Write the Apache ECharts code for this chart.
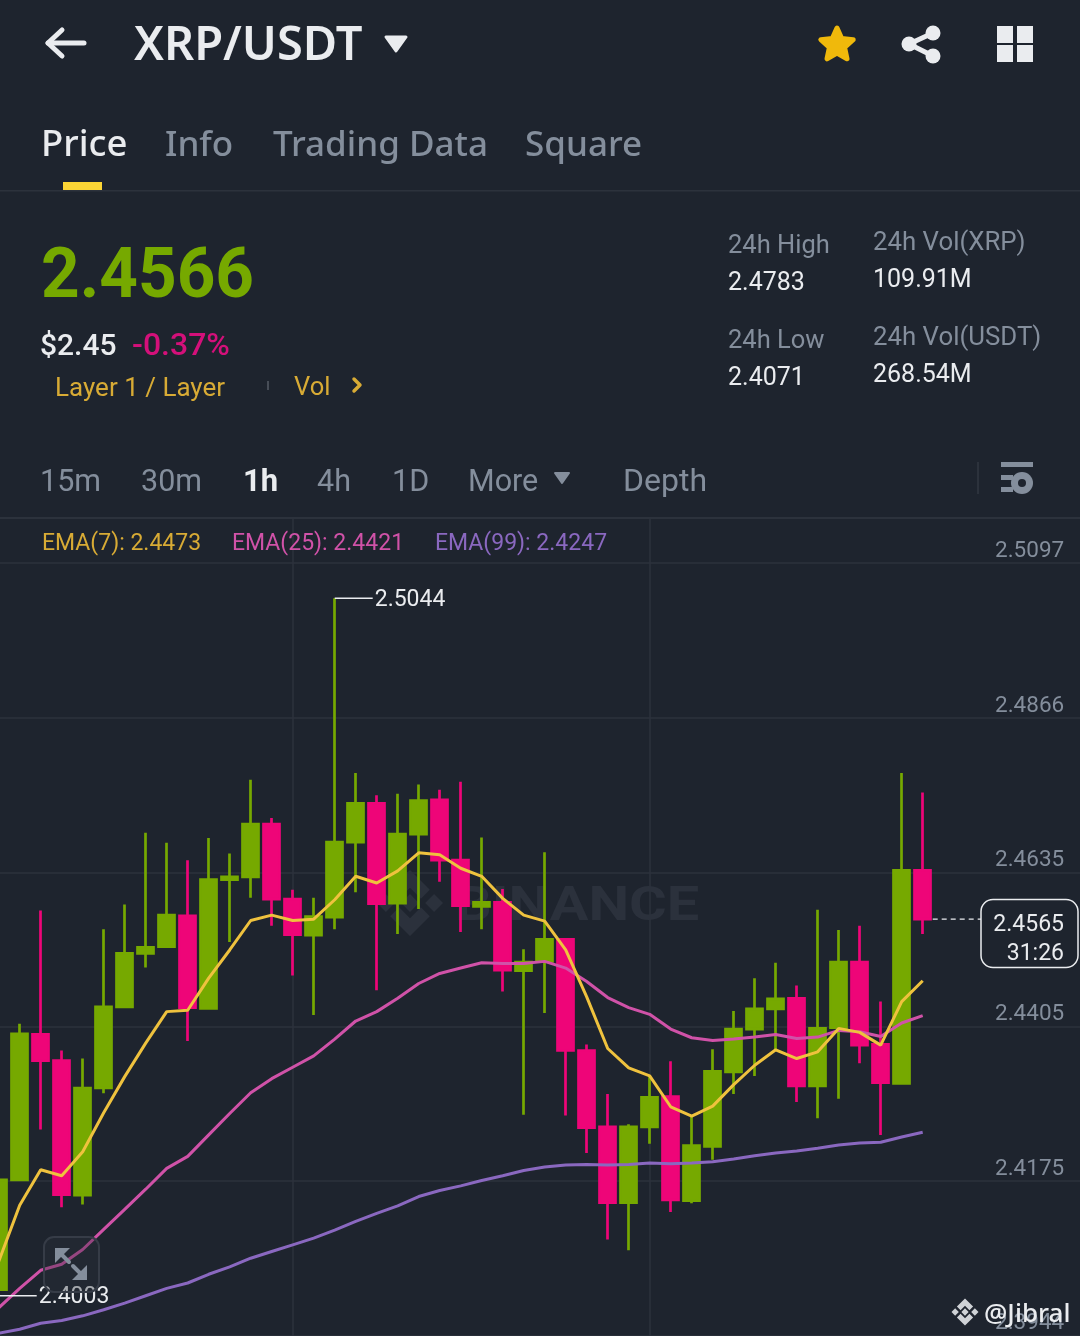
<!DOCTYPE html>
<html>
<head>
<meta charset="utf-8">
<title>XRP/USDT</title>
<script src="https://cdn.jsdelivr.net/npm/echarts@6/dist/echarts.min.js"></script>
<style>
html, body { margin: 0; padding: 0; background: #1e242e; }
#main { width: 1080px; height: 1336px; }
</style>
</head>
<body>
<div id="main"></div>
<script>
// hourly candles
var opens = [2.4012,2.4176,2.4393,2.4354,2.4153,2.4313,2.4434,2.4514,2.4524,2.4570,2.4432,2.4624,2.4628,2.4707,2.4595,2.4541,2.4568,2.4680,2.4738,2.4589,2.4692,2.4743,2.4653,2.4584,2.4590,2.4488,2.4502,2.4535,2.4369,2.4255,2.4142,2.4255,2.4300,2.4145,2.4226,2.4337,2.4401,2.4431,2.4447,2.4316,2.4403,2.4501,2.4378,2.4320,2.4638];
var closes = [2.4176,2.4394,2.4354,2.4154,2.4313,2.4434,2.4514,2.4523,2.4571,2.4433,2.4624,2.4628,2.4707,2.4595,2.4542,2.4569,2.4680,2.4738,2.4588,2.4692,2.4742,2.4653,2.4585,2.4590,2.4489,2.4501,2.4535,2.4369,2.4254,2.4142,2.4255,2.4299,2.4146,2.4227,2.4338,2.4401,2.4431,2.4446,2.4316,2.4402,2.4501,2.4377,2.4321,2.4638,2.4565];
var lows = [2.4003,2.4175,2.4251,2.4135,2.4139,2.4305,2.4433,2.4493,2.4523,2.4383,2.4431,2.4531,2.4597,2.4555,2.4481,2.4422,2.4550,2.4605,2.4459,2.4543,2.4580,2.4621,2.4546,2.4550,2.4457,2.4273,2.4425,2.4272,2.4216,2.4087,2.4071,2.4230,2.4128,2.4141,2.4206,2.4304,2.4331,2.4370,2.4292,2.4268,2.4297,2.4350,2.4243,2.4320,2.4543];
var highs = [2.4273,2.4409,2.4578,2.4369,2.4357,2.4550,2.4587,2.4694,2.4679,2.4653,2.4686,2.4663,2.4773,2.4716,2.4609,2.4597,2.5044,2.4783,2.4750,2.4752,2.4766,2.4758,2.4770,2.4687,2.4610,2.4520,2.4665,2.4536,2.4378,2.4304,2.4259,2.4331,2.4353,2.4273,2.4371,2.4428,2.4477,2.4500,2.4466,2.4579,2.4549,2.4555,2.4442,2.4783,2.4754];

var ema7 = [2.4054,2.4138,2.4191,2.4182,2.4218,2.4276,2.4330,2.4380,2.4427,2.4429,2.4477,2.4519,2.4563,2.4571,2.4563,2.4565,2.4594,2.4629,2.4619,2.4637,2.4664,2.4661,2.4641,2.4629,2.4596,2.4571,2.4562,2.4519,2.4449,2.4372,2.4343,2.4331,2.4285,2.4271,2.4286,2.4318,2.4347,2.4370,2.4357,2.4367,2.4402,2.4396,2.4377,2.4442,2.4473];
var ema25 = [2.3985,2.4014,2.4041,2.4050,2.4072,2.4102,2.4132,2.4162,2.4193,2.4211,2.4243,2.4275,2.4306,2.4327,2.4344,2.4361,2.4386,2.4413,2.4427,2.4447,2.4469,2.4484,2.4492,2.4500,2.4499,2.4499,2.4502,2.4492,2.4472,2.4448,2.4433,2.4423,2.4401,2.4388,2.4384,2.4386,2.4389,2.4393,2.4387,2.4389,2.4399,2.4397,2.4390,2.4410,2.4421];
var ema99 = [2.3947,2.3953,2.3962,2.3966,2.3973,2.3982,2.3992,2.4003,2.4014,2.4022,2.4035,2.4046,2.4059,2.4069,2.4079,2.4089,2.4101,2.4114,2.4126,2.4137,2.4151,2.4160,2.4167,2.4175,2.4182,2.4190,2.4195,2.4198,2.4199,2.4198,2.4199,2.4201,2.4200,2.4201,2.4203,2.4207,2.4212,2.4216,2.4219,2.4223,2.4228,2.4231,2.4232,2.4240,2.4247];

var priceTicks = [2.5097, 2.4866, 2.4635, 2.4405, 2.4175, 2.3944];
var gridCandles = [14, 31];          // candles the vertical grid lines run through
var extremes = [[16, 2.5044], [0, 2.4003]];
var lastPrice = [44, 2.4565];
var countdown = '31:26';
var tabs = ['Price', 'Info', 'Trading Data', 'Square'];
var intervals = ['15m', '30m', '1h', '4h', '1D', 'More', 'Depth'];

var BG = '#1e242e', GRID = '#2c323c', GREY = '#848e9c', WHITE = '#eaecef';
var UP = '#76a900', DOWN = '#ee0578';
var YELLOW = '#efc23e', PINK = '#d052a8', PURPLE = '#8a68c0', GOLD = '#d8ab35';
var UI_FONT = '"Noto Sans", sans-serif', NUM_FONT = 'Roboto, sans-serif';

var candles = opens.map(function (o, i) {
    return [o, closes[i], lows[i], highs[i]];
});
var slots = [];
for (var s = 0; s < 52; s++) { slots.push(s); }   // room right of the last candle

// y is the visual middle of the text, the font metrics sit about 3px high
function txt(text, x, y, size, color, weight, family, extra) {
    extra = extra || {};
    return {
        type: 'text', x: x, y: y + 3, z: extra.z || 10, scaleX: extra.scaleX || 1,
        style: {
            text: text, fill: color,
            font: (weight || 400) + ' ' + size + 'px ' + (family || UI_FONT),
            textAlign: 'left', textVerticalAlign: 'middle'
        }
    };
}
function rect(x, y, w, h, color, z) {
    return { type: 'rect', z: z || 10, shape: { x: x, y: y, width: w, height: h }, style: { fill: color } };
}
function poly(points, color, z) {
    return { type: 'polygon', z: z || 10, shape: { points: points }, style: { fill: color } };
}
function stroke(points, color, width, z) {
    return { type: 'polyline', z: z || 10, shape: { points: points },
        style: { stroke: color, lineWidth: width, lineCap: 'round', lineJoin: 'round', fill: null } };
}
// exchange logo, used for the watermark and for the author tag
function logo(cx, cy, r, color, z) {
    var parts = [
        [[0, -.27], [.27, 0], [0, .27], [-.27, 0]],
        [[-.73, -.27], [-.46, 0], [-.73, .27], [-1, 0]],
        [[.73, -.27], [1, 0], [.73, .27], [.46, 0]],
        [[0, -1], [.6, -.4], [.33, -.13], [0, -.46], [-.33, -.13], [-.6, -.4]],
        [[0, 1], [.6, .4], [.33, .13], [0, .46], [-.33, .13], [-.6, .4]]
    ];
    return parts.map(function (p) {
        return poly(p.map(function (q) { return [cx + q[0] * r, cy + q[1] * r]; }), color, z);
    });
}
function star(cx, cy, outer, inner) {
    var pts = [];
    for (var i = 0; i < 10; i++) {
        var r = i % 2 ? inner : outer, a = -Math.PI / 2 + i * Math.PI / 5;
        pts.push([cx + r * Math.cos(a), cy + r * Math.sin(a)]);
    }
    return pts;
}

var tabX = [41, 165, 273, 525];
var intervalX = [40, 141, 243, 317, 392, 468, 623];

var page = [];
// top bar
page.push(stroke([[48, 43], [84, 43]], WHITE, 5));
page.push(stroke([[62, 30], [48, 43], [62, 56]], WHITE, 5));
page.push(txt('XRP/USDT', 134, 44, 47, WHITE, 600));
page.push({ type: 'polygon', z: 10, shape: { points: [[386, 37], [406, 37], [396, 51]] },
    style: { fill: WHITE, stroke: WHITE, lineWidth: 3, lineJoin: 'round' } });
page.push({ type: 'polygon', z: 10, shape: { points: star(837, 45, 17, 8) },
    style: { fill: '#f0b90b', stroke: '#f0b90b', lineWidth: 5, lineJoin: 'round' } });
page.push(stroke([[933, 33], [909, 44], [933, 56]], WHITE, 5));
[[909, 44], [933, 33], [933, 56]].forEach(function (c) {
    page.push({ type: 'circle', z: 10, shape: { cx: c[0], cy: c[1], r: 7.5 }, style: { fill: WHITE } });
});
page.push(rect(997, 26, 16, 17, WHITE), rect(1017, 26, 16, 17, WHITE), rect(997, 45, 16, 17, WHITE), rect(1017, 45, 16, 17, WHITE));
// tabs
tabs.forEach(function (t, i) {
    page.push(txt(t, tabX[i], 143, i === 0 ? 36.5 : 35, i === 0 ? WHITE : GREY, 500));
});
page.push(rect(63, 182, 39, 8, '#fcd535'), rect(0, 190, 1080, 1.5, GRID));
// price block
page.push(txt('2.4566', 41, 276, 71, UP, 700, NUM_FONT, { scaleX: 0.95 }));
page.push(txt('$2.45', 40, 344, 30, WHITE, 500, NUM_FONT));
page.push(txt('-0.37%', 132, 344, 32, '#d4107a', 500, NUM_FONT));
page.push(txt('Layer 1 / Layer', 55, 386, 26, GOLD, 400, NUM_FONT));
page.push(rect(267, 381, 2, 9, '#474d57'));
page.push(txt('Vol', 294, 386, 25.5, GOLD, 400, NUM_FONT));
page.push(stroke([[354, 379], [360, 385], [354, 391]], GOLD, 3.5));
// 24h stats
page.push(txt('24h High', 728, 244, 25.5, GREY, 400, NUM_FONT));
page.push(txt('2.4783', 728, 281, 25, WHITE, 400, NUM_FONT));
page.push(txt('24h Low', 728, 339, 25.5, GREY, 400, NUM_FONT));
page.push(txt('2.4071', 728, 376, 25, WHITE, 400, NUM_FONT));
page.push(txt('24h Vol(XRP)', 873, 241, 25.8, GREY, 400, NUM_FONT));
page.push(txt('109.91M', 873, 278, 25, WHITE, 400, NUM_FONT));
page.push(txt('24h Vol(USDT)', 873, 336, 25.8, GREY, 400, NUM_FONT));
page.push(txt('268.54M', 873, 373, 25, WHITE, 400, NUM_FONT));
// interval row
intervals.forEach(function (t, i) {
    var size = t === 'Depth' ? 32 : (t === '1h' ? 31 : 30.5);
    page.push(txt(t, intervalX[i], 480, size, t === '1h' ? WHITE : GREY, t === '1h' ? 700 : 400, NUM_FONT));
});
page.push({ type: 'polygon', z: 10, shape: { points: [[555, 473], [569, 473], [562, 483]] },
    style: { fill: GREY, stroke: GREY, lineWidth: 2, lineJoin: 'round' } });
page.push(rect(977, 462, 2, 32, GRID));
page.push(rect(1001, 462, 32, 5, GREY), rect(1001, 475, 12, 5, GREY), rect(1001, 487, 12, 5, GREY));
page.push({ type: 'circle', z: 10, shape: { cx: 1022, cy: 483, r: 11 }, style: { fill: GREY } });
page.push({ type: 'circle', z: 10, shape: { cx: 1022, cy: 483, r: 4 }, style: { fill: BG } });
page.push(rect(0, 517, 1080, 2, GRID));
// EMA legend
page.push(txt('EMA(7): 2.4473', 42, 541, 23, GOLD, 400, NUM_FONT));
page.push(txt('EMA(25): 2.4421', 232, 541, 23, PINK, 400, NUM_FONT));
page.push(txt('EMA(99): 2.4247', 435, 541, 23, PURPLE, 400, NUM_FONT));
// watermark sits under the candles
logo(410, 903, 33, '#2b313c', 1).forEach(function (e) { page.push(e); });
page.push(txt('BINANCE', 455, 905, 48, '#2b313c', 700, NUM_FONT, { z: 1, scaleX: 1.2 }));
// fullscreen button
page.push({ type: 'rect', z: 20, shape: { x: 44, y: 1237, width: 55, height: 55, r: 10 },
    style: { fill: 'rgba(43,49,57,0.35)', stroke: '#363c47', lineWidth: 2 } });
page.push(poly([[55, 1248], [70, 1248], [55, 1263]], GREY, 21), stroke([[60, 1253], [69, 1262]], GREY, 4, 21));
page.push(poly([[87, 1280], [72, 1280], [87, 1265]], GREY, 21), stroke([[82, 1275], [73, 1266]], GREY, 4, 21));
// author tag
logo(965, 1312, 13.5, '#cfd2d6', 30).forEach(function (e) { page.push(e); });
page.push(txt('@Jibral', 984, 1312, 26, WHITE, 500, UI_FONT, { z: 30 }));

// labelled high and low, with their leader line
function renderExtreme(params, api) {
    var p = api.coord([api.value(0), api.value(1)]);
    return { type: 'group', children: [
        { type: 'line', shape: { x1: p[0], y1: p[1], x2: p[0] + 38, y2: p[1] }, style: { stroke: WHITE, lineWidth: 1.5 } },
        { type: 'text', style: { x: p[0] + 40, y: p[1] + 2, text: api.value(1).toFixed(4), fill: WHITE,
            font: '400 23px ' + NUM_FONT, textVerticalAlign: 'middle' } }
    ] };
}
// last price with its dashed leader and boxed countdown
function renderLast(params, api) {
    var p = api.coord([api.value(0), api.value(1)]);
    return { type: 'group', children: [
        { type: 'line', shape: { x1: p[0] + 10, y1: p[1], x2: 981, y2: p[1] },
            style: { stroke: WHITE, lineWidth: 1.2, lineDash: [5, 4] } },
        { type: 'rect', shape: { x: 981, y: 899.5, width: 97, height: 68, r: 12 },
            style: { fill: BG, stroke: WHITE, lineWidth: 1.5 } },
        { type: 'text', style: { x: 1064, y: 925, text: api.value(1).toFixed(4), fill: WHITE, textAlign: 'right',
            font: '400 23px ' + NUM_FONT, textVerticalAlign: 'middle' } },
        { type: 'text', style: { x: 1064, y: 954, text: countdown, fill: WHITE, textAlign: 'right',
            font: '400 23px ' + NUM_FONT, textVerticalAlign: 'middle' } }
    ] };
}

function emaSeries(name, data, color) {
    return {
        name: name, type: 'line', data: data, z: 5, showSymbol: false, smooth: false,
        lineStyle: { color: color, width: 3 }, silent: true
    };
}

var myChart = echarts.init(document.getElementById('main'));
var option = {
    backgroundColor: BG,
    animation: false,
    graphic: { elements: page },
    // first candle is cut by the screen edge, so the grid starts left of it
    grid: { left: -11.8, width: 1092, top: 518, bottom: 0, outerBoundsMode: 'none' },
    xAxis: {
        type: 'category', data: slots, boundaryGap: true,
        axisLine: { show: false }, axisTick: { show: false }, axisLabel: { show: false }, splitLine: { show: false }
    },
    yAxis: {
        type: 'value', position: 'right', min: 2.39429, max: 2.51637,
        axisLine: { show: false },
        axisTick: { show: false, customValues: priceTicks },
        axisLabel: {
            customValues: priceTicks, inside: true, margin: 16, color: GREY,
            fontFamily: NUM_FONT, fontSize: 22.5, verticalAlign: 'bottom',
            formatter: function (v) { return v.toFixed(4); }
        },
        splitLine: { show: true, lineStyle: { color: GRID, width: 1.5 } }
    },
    series: [
        {
            name: 'grid', type: 'line', data: [], z: 1, silent: true,
            markLine: {
                z: 1, silent: true, symbol: 'none', animation: false, label: { show: false },
                lineStyle: { color: GRID, width: 1.5, type: 'solid' },
                data: gridCandles.map(function (i) { return { xAxis: i }; })
            }
        },
        {
            name: 'XRP/USDT', type: 'candlestick', data: candles, z: 3, barWidth: 16,
            itemStyle: { color: UP, color0: DOWN, borderColor: UP, borderColor0: DOWN, borderWidth: 2.7 }
        },
        emaSeries('EMA(99)', ema99, PURPLE),
        emaSeries('EMA(25)', ema25, PINK),
        emaSeries('EMA(7)', ema7, YELLOW),
        { name: 'extremes', type: 'custom', data: extremes, renderItem: renderExtreme, z: 6, clip: false, silent: true },
        { name: 'last', type: 'custom', data: [lastPrice], renderItem: renderLast, z: 6, clip: false, silent: true }
    ]
};
myChart.setOption(option);
</script>
</body>
</html>
